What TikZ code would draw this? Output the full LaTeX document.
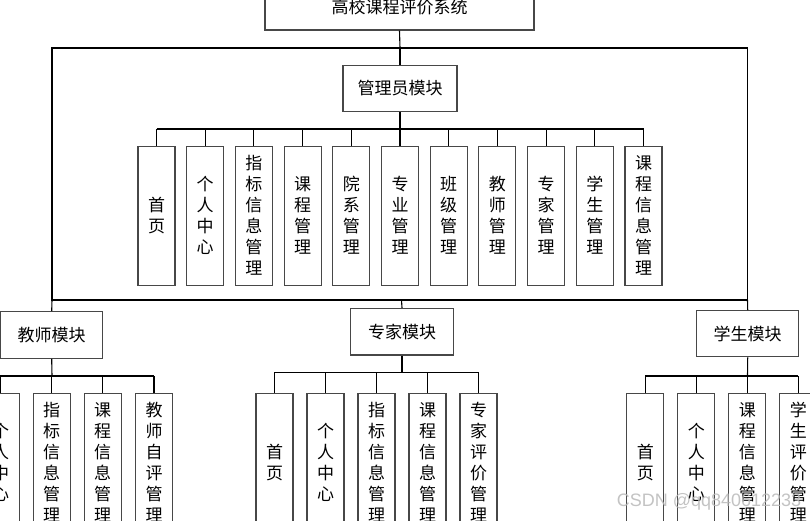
\documentclass[tikz,border=0pt]{standalone}
\usepackage{fontspec}
\setmainfont{Noto Sans CJK SC}
\newfontfamily\wmfont{Liberation Sans}
\begin{document}
\begin{tikzpicture}[x=1pt,y=-1pt,
  box/.style={draw=black!72, line width=1.1pt, fill=white, inner sep=0pt,
    font=\fontsize{17}{21}\selectfont, align=center},
  mod/.style={box, minimum width=102pt, minimum height=46.5pt},
  leaf/.style={box, minimum width=37pt, minimum height=139pt, anchor=north},
  conn/.style={draw=black, line width=1.1pt}]
\useasboundingbox (0,0) rectangle (810,520);
\clip (0,0) rectangle (810,520);
\fill[white] (0,0) rectangle (810,520);

% top system box
\node[box, minimum width=269pt, minimum height=46pt] (sys) at (399.5,7) {高校课程评价系统};

% frame
\coordinate (tl) at (52,48);
\coordinate (tm) at (400,48);
\coordinate (br) at (747.5,300);
\coordinate (bl) at (52,300);
\coordinate (bm) at (401.5,300);

% admin module
\node[mod, minimum width=114pt] (adm) at (400,88.3) {管理员模块};
\coordinate (abus) at (400,129);

\node[leaf] (a1)  at (156.5,145.5) {首\\页};
\node[leaf] (a2)  at (205.2,145.5) {个\\人\\中\\心};
\node[leaf] (a3)  at (253.9,145.5) {指\\标\\信\\息\\管\\理};
\node[leaf] (a4)  at (302.6,145.5) {课\\程\\管\\理};
\node[leaf] (a5)  at (351.3,145.5) {院\\系\\管\\理};
\node[leaf] (a6)  at (400.0,145.5) {专\\业\\管\\理};
\node[leaf] (a7)  at (448.7,145.5) {班\\级\\管\\理};
\node[leaf] (a8)  at (497.4,145.5) {教\\师\\管\\理};
\node[leaf] (a9)  at (546.1,145.5) {专\\家\\管\\理};
\node[leaf] (a10) at (594.8,145.5) {学\\生\\管\\理};
\node[leaf] (a11) at (643.5,145.5) {课\\程\\信\\息\\管\\理};

% teacher module
\node[mod] (tea) at (51.7,335) {教师模块};
\coordinate (tbus) at (52,376);
\node[leaf] (t0) at (0.7,392.5)   {个\\人\\中\\心};
\node[leaf] (t1) at (51.7,392.5)  {指\\标\\信\\息\\管\\理};
\node[leaf] (t2) at (102.7,392.5) {课\\程\\信\\息\\管\\理};
\node[leaf] (t3) at (154,392.5)   {教\\师\\自\\评\\管\\理};

% expert module
\node[mod, minimum width=102.6pt] (exp) at (402,331.7) {专家模块};
\coordinate (ebus) at (402,372.3);
\node[leaf] (e1) at (274.5,392.5) {首\\页};
\node[leaf] (e2) at (325.5,392.5) {个\\人\\中\\心};
\node[leaf] (e3) at (376.5,392.5) {指\\标\\信\\息\\管\\理};
\node[leaf] (e4) at (427.5,392.5) {课\\程\\信\\息\\管\\理};
\node[leaf] (e5) at (478.5,392.5) {专\\家\\评\\价\\管\\理};

% student module
\node[mod, minimum height=46pt] (stu) at (747.7,333.7) {学生模块};
\coordinate (sbus) at (747.5,376);
\node[leaf] (s1) at (645.3,392.5) {首\\页};
\node[leaf] (s2) at (696.3,392.5) {个\\人\\中\\心};
\node[leaf] (s3) at (747.3,392.5) {课\\程\\信\\息\\管\\理};
\node[leaf] (s4) at (798.3,392.5) {学\\生\\评\\价\\管\\理};

% connectors
\draw[conn] (sys.south) -- (tm);
\draw[conn] (tl) rectangle (br);
\draw[conn] (tm) -- (adm.north);
\draw[conn] (adm.south) -- (abus);
\draw[conn] (a1.north |- abus) -- (a11.north |- abus);
\foreach \i in {1,...,11} \draw[conn] (a\i.north |- abus) -- (a\i.north);

\draw[conn] (bl) -- (tea.north);
\draw[conn] (bm) -- (exp.north);
\draw[conn] (br) -- (stu.north);

\draw[conn] (tea.south) -- (tbus);
\draw[conn] (0,376) -- (t3.north |- tbus);
\foreach \i in {0,...,3} \draw[conn] (t\i.north |- tbus) -- (t\i.north);

\draw[conn] (exp.south) -- (ebus);
\draw[conn] (e1.north |- ebus) -- (e5.north |- ebus);
\foreach \i in {1,...,5} \draw[conn] (e\i.north |- ebus) -- (e\i.north);

\draw[conn] (stu.south) -- (sbus);
\draw[conn] (s1.north |- sbus) -- (s4.north |- sbus);
\foreach \i in {1,...,4} \draw[conn] (s\i.north |- sbus) -- (s\i.north);

% watermark
\node[text=gray!55, opacity=0.85, font=\wmfont\fontsize{18}{18}\selectfont] (wm) at (709,502) {CSDN @qq840612233};
\end{tikzpicture}
\end{document}
